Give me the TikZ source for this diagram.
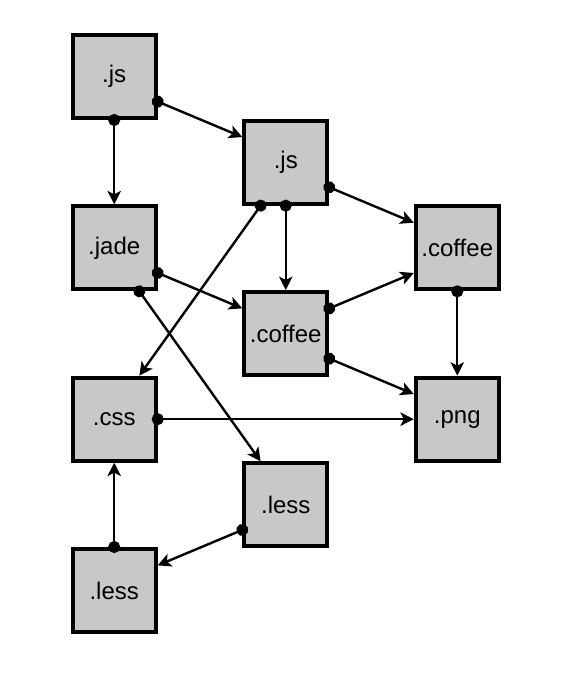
\documentclass[tikz,border=0pt]{standalone}
\usepackage{fontspec}
\setmainfont{Liberation Sans}
\usepackage{tikz}
\usetikzlibrary{matrix,arrows.meta}

\definecolor{boxgray}{RGB}{200,200,200}

\tikzset{
	filebox/.style={draw=black, fill=boxgray, line width=3pt, minimum size=62.25pt,
		inner sep=0pt, anchor=center, font=\fontsize{18}{21}\selectfont},
	dep/.style={line width=1.8pt, {Circle[length=9pt]}-{Stealth[length=10pt,width=10pt,inset=2.5pt]},
		shorten <=-4.5pt}
}

\begin{document}
\begin{tikzpicture}[x=0.75pt,y=-0.75pt]
\useasboundingbox (0,0) rectangle (580,677);
\matrix (m) at (285.75,333.5) [matrix of nodes, nodes={filebox}, row sep=-1pt, column sep=63.4pt]
{
	.js   &         &         \\
	      & .js     &         \\
	.jade &         & .coffee \\
	      & .coffee &         \\
	.css  &         & .png    \\
	      & .less   &         \\
	.less &         &         \\
};
\path[dep]
(m-1-1.-30) edge (m-2-2.150)
(m-1-1.south) edge (m-3-1.north)
(m-2-2.-30) edge (m-3-3.150)
(m-2-2.-120) edge (m-5-1.60)
(m-2-2.south) edge (m-4-2.north)
(m-3-1.-30) edge (m-4-2.150)
(m-3-1.-60) edge (m-6-2.120)
(m-4-2.30) edge (m-3-3.-150)
(m-4-2.-30) edge (m-5-3.150)
(m-3-3.south) edge (m-5-3.north)
(m-5-1.east) edge (m-5-3.west)
(m-6-2.-150) edge (m-7-1.30)
(m-7-1.north) edge (m-5-1.south);
\end{tikzpicture}
\end{document}
